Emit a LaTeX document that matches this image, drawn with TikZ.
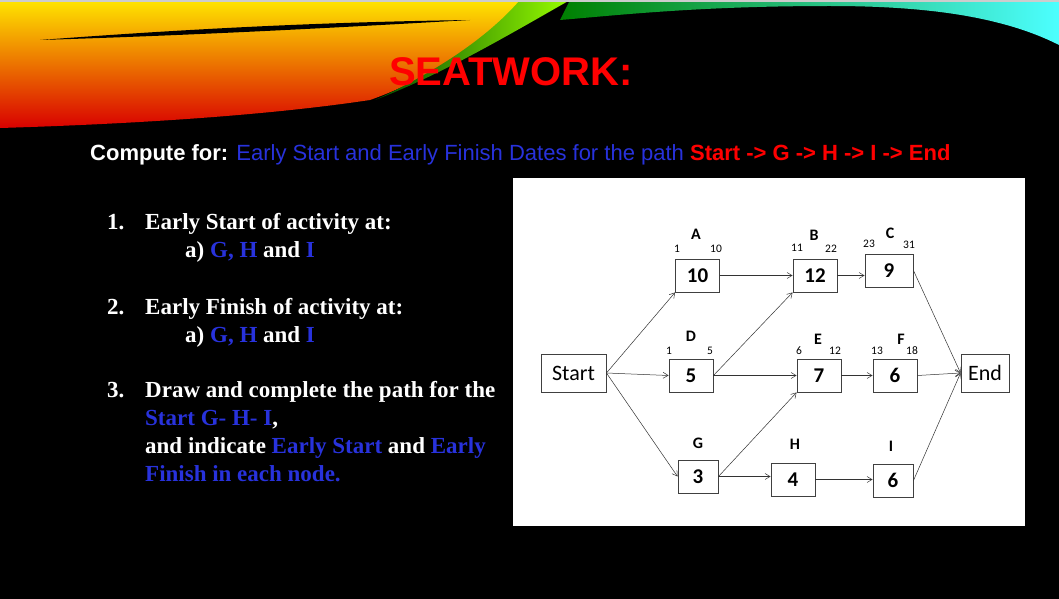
\documentclass[tikz,border=0pt]{standalone}
\usepackage{fontspec}
\setmainfont{Liberation Serif}
\newfontfamily\arial{Liberation Sans}
\newfontfamily\calib{Carlito}
\usetikzlibrary{arrows.meta}
\definecolor{tblue}{RGB}{40,50,220}
\definecolor{tred}{RGB}{255,0,0}
\begin{document}
\begin{tikzpicture}[x=1pt,y=-1pt,
  box/.style={draw=black!75,line width=0.9pt,fill=white,minimum width=44pt,minimum height=33pt,inner sep=0pt,font=\calib\bfseries\fontsize{21}{21}\selectfont},
  lbl/.style={font=\calib\bfseries\fontsize{16}{16}\selectfont,inner sep=0pt},
  num/.style={font=\calib\fontsize{11.5}{11.5}\selectfont,inner sep=0pt},
  arr/.style={-{Straight Barb[length=5pt,width=6pt]},black!80,line width=0.5pt},
  item/.style={anchor=base west,inner sep=0pt,font=\bfseries\fontsize{23}{23}\selectfont,text=white}]
\fill[black] (0,0) rectangle (1059,599);
\useasboundingbox (0,0) rectangle (1059,599);
% swoosh
\shade[top color=yellow!80!orange,bottom color=red!85!black]
  (0,0) -- (530,0) .. controls (480,40) and (440,75) .. (370,100) .. controls (250,118) and (100,125) .. (0,128) -- cycle;
\fill[black] (40,40) .. controls (200,28) and (330,22) .. (470,20) .. controls (330,28) and (200,35) .. (40,40) -- cycle;
\shade[left color=green!30!black,right color=yellow!60!green] (520,0) -- (570,0) .. controls (500,40) and (440,75) .. (375,100) .. controls (440,70) and (490,35) .. (520,0) -- cycle;
\shade[left color=green!50!black,right color=cyan!70!white]
  (570,0) -- (1059,0) -- (1059,45) .. controls (1000,15) and (920,6) .. (830,6) .. controls (700,6) and (620,15) .. (560,20) -- cycle;
\fill[gray!40] (0,0) rectangle (1059,2);
% title
\node[text=tred,font=\arial\bfseries\fontsize{40}{40}\selectfont,inner sep=0pt] (title) at (511,72) {SEATWORK:};
\node[anchor=base west,inner sep=0pt,font=\arial\fontsize{22}{22}\selectfont] (comp) at (90,160)
 {\textcolor{white}{\bfseries Compute for:} \textcolor{tblue}{Early Start and Early Finish Dates for the path} \textcolor{tred}{\bfseries Start -> G -> H -> I -> End}};
% list
\node[item] (n1) at (107,229) {1.};
\node[item] (t1) at (145,229) {Early Start of activity at:};
\node[item] (t1a) at (185,257) {a) \textcolor{tblue}{G, H} and \textcolor{tblue}{I}};
\node[item] (n2) at (107,314) {2.};
\node[item] (t2) at (145,314) {Early Finish of activity at:};
\node[item] (t2a) at (185,342) {a) \textcolor{tblue}{G, H} and \textcolor{tblue}{I}};
\node[item] (n3) at (107,397) {3.};
\node[item] (t3) at (145,397) {Draw and complete the path for the};
\node[item] (t3b) at (145,425) {\textcolor{tblue}{Start G- H- I},};
\node[item] (t3c) at (145,453) {and indicate \textcolor{tblue}{Early Start} and \textcolor{tblue}{Early}};
\node[item] (t3d) at (145,481) {\textcolor{tblue}{Finish in each node.}};
% diagram
\fill[white] (513,178) rectangle (1025,526);
\node[box,minimum width=65pt,minimum height=38pt,font=\calib\fontsize{22}{22}\selectfont] (S) at (573.5,373) {Start};
\node[box,minimum width=48pt,minimum height=38pt,font=\calib\fontsize{22}{22}\selectfont] (End) at (985,373) {End};
\node[box] (A) at (697.5,275.5) {10};
\node[box] (B) at (815,275.5) {12};
\node[box,minimum width=48pt] (C) at (889,270.5) {9};
\node[box] (D) at (691,375.5) {5};
\node[box] (E) at (819,375.5) {7};
\node[box] (F) at (895,375.5) {6};
\node[box,minimum width=40pt] (G) at (698,476.5) {3};
\node[box] (H) at (793,479.5) {4};
\node[box,minimum width=40pt] (I) at (893,480.5) {6};
\node[lbl] (lA) at (696,234) {A};
\node[lbl] (lB) at (814,235) {B};
\node[lbl] (lC) at (890,233) {C};
\node[lbl] (lD) at (691,336) {D};
\node[lbl] (lE) at (818,339) {E};
\node[lbl] (lF) at (901,339) {F};
\node[lbl] (lG) at (698,443) {G};
\node[lbl] (lH) at (795,444) {H};
\node[lbl] (lI) at (891,446) {I};
\node[num] at (677,249) {1};
\node[num] at (716,249) {10};
\node[num] at (797,248) {11};
\node[num] at (831,249) {22};
\node[num] at (869,244) {23};
\node[num] at (909,245) {31};
\node[num] at (669,351) {1};
\node[num] at (710,351) {5};
\node[num] at (799,351) {6};
\node[num] at (835,351) {12};
\node[num] at (877,351) {13};
\node[num] at (912,351) {18};
\draw[arr] (S.east) -- (A.south west);
\draw[arr] (S.east) -- (D.west);
\draw[arr] (S.east) -- (G.west);
\draw[arr] (A.east) -- (B.west);
\draw[arr] (B.east) -- (C.west |- B.east);
\draw[arr] (D.east) -- (B.south west);
\draw[arr] (D.east) -- (E.west);
\draw[arr] (E.east) -- (F.west);
\draw[arr] (F.east) -- (End.west);
\draw[arr] (G.east) -- (E.south west);
\draw[arr] (G.east) -- (H.west |- G.east);
\draw[arr] (H.east) -- (I.west |- H.east);
\draw[arr] (C.east) -- (End.west);
\draw[arr] (I.east) -- (End.west);
\end{tikzpicture}
\end{document}
